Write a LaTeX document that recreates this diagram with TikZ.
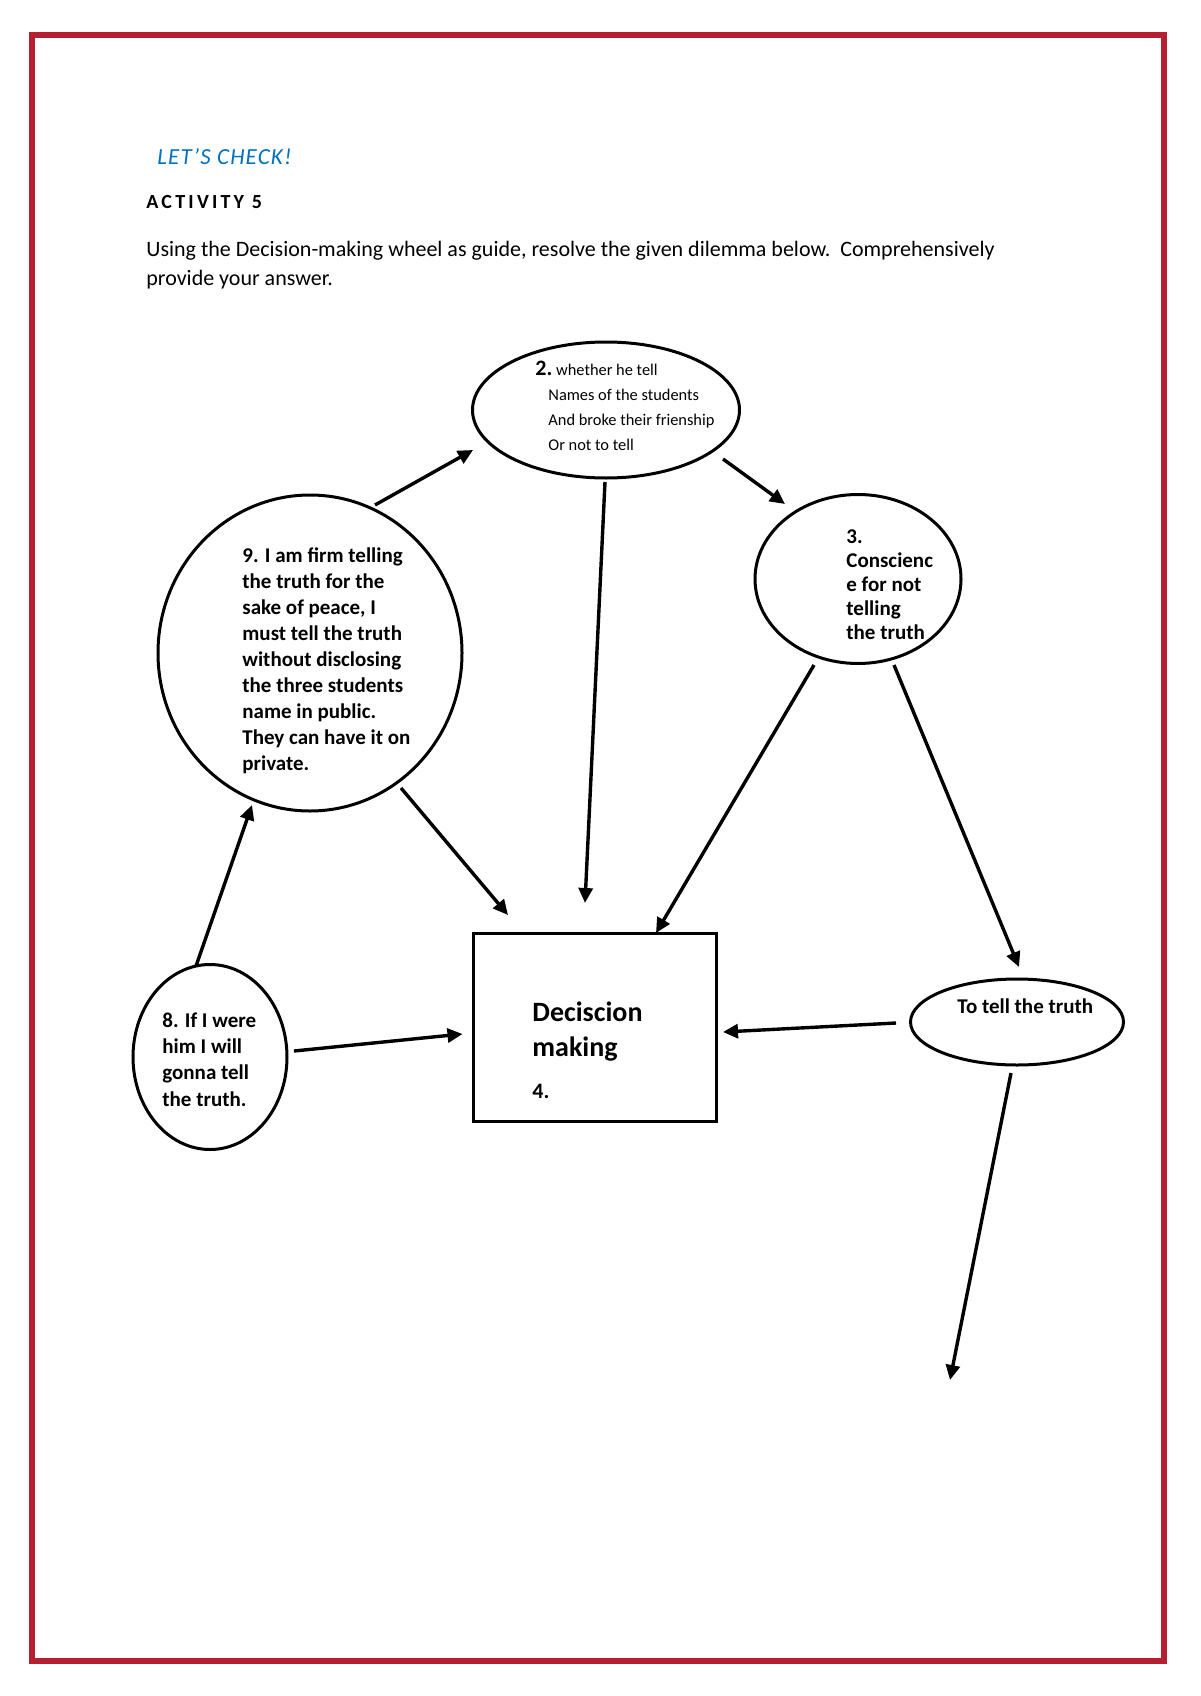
\documentclass[tikz,border=0pt]{standalone}
\usepackage{fontspec}
\usepackage{graphicx}
\setmainfont{Carlito}
\usetikzlibrary{arrows.meta,calc,shapes.geometric}
\definecolor{framered}{RGB}{182,30,50}
\definecolor{headblue}{RGB}{0,112,192}
\begin{document}
\begin{tikzpicture}[x=0.5pt,y=-0.5pt,
  ell/.style={ellipse, draw, line width=1.5pt, inner sep=0pt},
  lbl/.style={anchor=north west, inner sep=0pt, align=left, font=\bfseries\fontsize{10.5}{13}\selectfont},
  arr/.style={line width=1.7pt, -{Triangle[length=7.5pt,width=7pt]}}]
\useasboundingbox (0,0) rectangle (1200,1696);
\draw[framered, line width=2.6pt] (32,35) rectangle (1164,1661);

% header
\node[anchor=west, inner sep=0pt, text=headblue, font=\itshape\fontsize{11.5}{14}\selectfont\addfontfeature{LetterSpace=5}] (hd) at (157,157) {LET’S CHECK!};
\node[anchor=west, inner sep=0pt, font=\bfseries\fontsize{10}{12}\selectfont\addfontfeature{LetterSpace=16}] (act) at (146,202) {ACTIVITY 5};
\node[anchor=north west, inner sep=0pt, align=left, font=\fontsize{11}{14.5}\selectfont] (par) at (146,241) {Using the Decision-making wheel as guide, resolve the given dilemma below.\ \ Comprehensively\\provide your answer.};

% shapes
\node[ell, minimum width=133.5pt, minimum height=68pt] (e2) at (606,410) {};
\node[ell, minimum width=152pt, minimum height=158pt] (c9) at (310,653) {};
\node[ell, minimum width=103pt, minimum height=84.5pt] (e3) at (858,579) {};
\node[ell, minimum width=106.5pt, minimum height=43pt] (et) at (1017,1022) {};
\node[ell, minimum width=77pt, minimum height=92.5pt] (c8) at (210,1057) {};
\node[draw, line width=1.5pt, minimum width=121.5pt, minimum height=94pt, inner sep=0pt] (box) at (594.5,1027) {};

% texts
\node[anchor=north west, inner sep=0pt, align=left, font=\fontsize{8.2}{12.5}\selectfont] (t2) at (548,361) {\hspace*{-6.5pt}{\bfseries\fontsize{11}{12.5}\selectfont 2.}\ whether he tell\\Names of the students\\And broke their frienship\\Or not to tell};
\node[lbl] (t9) at (242,547) {9. I am firm telling\\the truth for the\\sake of peace, I\\must tell the truth\\without disclosing\\the three students\\name in public.\\They can have it on\\private.};
\node[lbl, font=\bfseries\fontsize{10.5}{12}\selectfont] (t3) at (846,529) {3.\\Conscienc\\e for not\\telling\\the truth};
\node[anchor=north west, inner sep=0pt, font=\bfseries\fontsize{10.5}{12}\selectfont] (tt) at (957,998) {To tell the truth};
\node[lbl, font=\bfseries\fontsize{10.5}{13.2}\selectfont] (t8) at (162,1012) {8. If I were\\him I will\\gonna tell\\the truth.};
\node[lbl, font=\bfseries\fontsize{14}{17.5}\selectfont] (td) at (532,1001) {Deciscion\\making};
\node[anchor=north west, inner sep=0pt, font=\bfseries\fontsize{11}{13}\selectfont] (t4) at (532,1084) {4.};

% connectors
\draw[arr] ($(c9)+(65,-148)$) -- ($(e2)+(-133,40)$);
\draw[arr] ($(e2)+(117,49)$) -- ($(e3)+(-73,-75)$);
\draw[arr] ($(e2)+(-1,72)$) -- ($(box)+(-9.5,-124)$);
\draw[arr] ($(e3)+(-44,86)$) -- ($(box)+(61.5,-94)$);
\draw[arr] ($(e3)+(36,86)$) -- ($(et)+(2,-55)$);
\draw[arr] ($(c9)+(91,135)$) -- ($(box)+(-86.5,-112)$);
\draw[arr] ($(c8)+(-14,-91)$) -- ($(c9)+(-58,152)$);
\draw[arr] ($(c8)+(84,-6)$) -- ($(box)+(-132,7)$);
\draw[arr] ($(et)+(-121,1)$) -- ($(box)+(128.5,5)$);
\coordinate (endpt) at (950,1380);
\draw[arr] ($(et)+(-6,51)$) -- (endpt);
\end{tikzpicture}
\end{document}
